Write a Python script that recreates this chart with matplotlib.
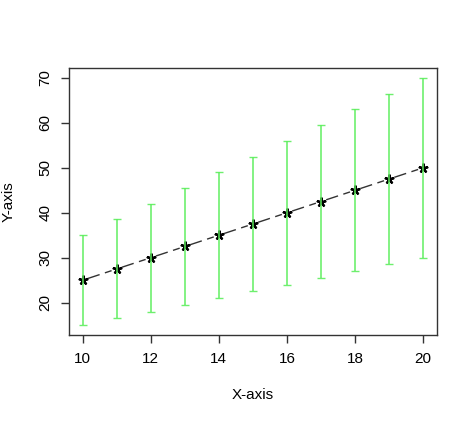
import numpy as np
import matplotlib
matplotlib.use("Agg")
import matplotlib.pyplot as plt

plt.rcParams['font.family'] = ['Liberation Sans', 'DejaVu Sans']

x = [10, 11, 12, 13, 14, 15, 16, 17, 18, 19, 20]
y = [25, 27.5, 30, 32.5, 35, 37.5, 40, 42.5, 45, 47.5, 50]
lower = [15, 16.5, 18, 19.5, 21, 22.5, 24, 25.5, 27, 28.5, 30]
upper = [35, 38.5, 42, 45.5, 49, 52.5, 56, 59.5, 63, 66.5, 70]
xticks = [10, 12, 14, 16, 18, 20]
yticks = [20, 30, 40, 50, 60, 70]

fig = plt.figure(figsize=(4.74, 4.22), dpi=100)
ax = fig.add_axes([0.1456, 0.206, 0.776, 0.633])

# dashed line between points, with gaps near the points (R type="b")
xa = np.array(x, dtype=float)
ya = np.array(y, dtype=float)
gap = 0.15
for i in range(len(xa) - 1):
    x0, x1 = xa[i], xa[i + 1]
    y0, y1 = ya[i], ya[i + 1]
    ax.plot([x0 + gap * (x1 - x0), x1 - gap * (x1 - x0)],
            [y0 + gap * (y1 - y0), y1 - gap * (y1 - y0)],
            color='#333333', lw=1.0, dashes=(9, 4), solid_capstyle='butt')

ax.plot(x, y, ls='none', marker=(5, 2, 0), ms=7, mec='black', mew=1.6,
        color='black', zorder=3)
err = [np.array(y) - np.array(lower), np.array(upper) - np.array(y)]
ax.errorbar(x, y, yerr=err, fmt='none', ecolor='#5eee5e', elinewidth=1.2,
            capsize=3, capthick=1.0, zorder=4, alpha=0.9)

ax.set_xlim(9.6, 20.4)
ax.set_ylim(12.8, 72.2)
ax.set_xticks(xticks)
ax.set_yticks(yticks)
ax.set_yticklabels([str(v) for v in yticks], rotation=90, va='center')
ax.tick_params(direction='out', length=6, width=1, labelsize=11, pad=6,
               color='#333333')
for s in ax.spines.values():
    s.set_color('#333333')
    s.set_linewidth(1)

ax.set_xlabel('X-axis', fontsize=11, labelpad=16)
ax.set_ylabel('Y-axis', fontsize=11, labelpad=16)

fig.savefig('out.png', dpi=100)
